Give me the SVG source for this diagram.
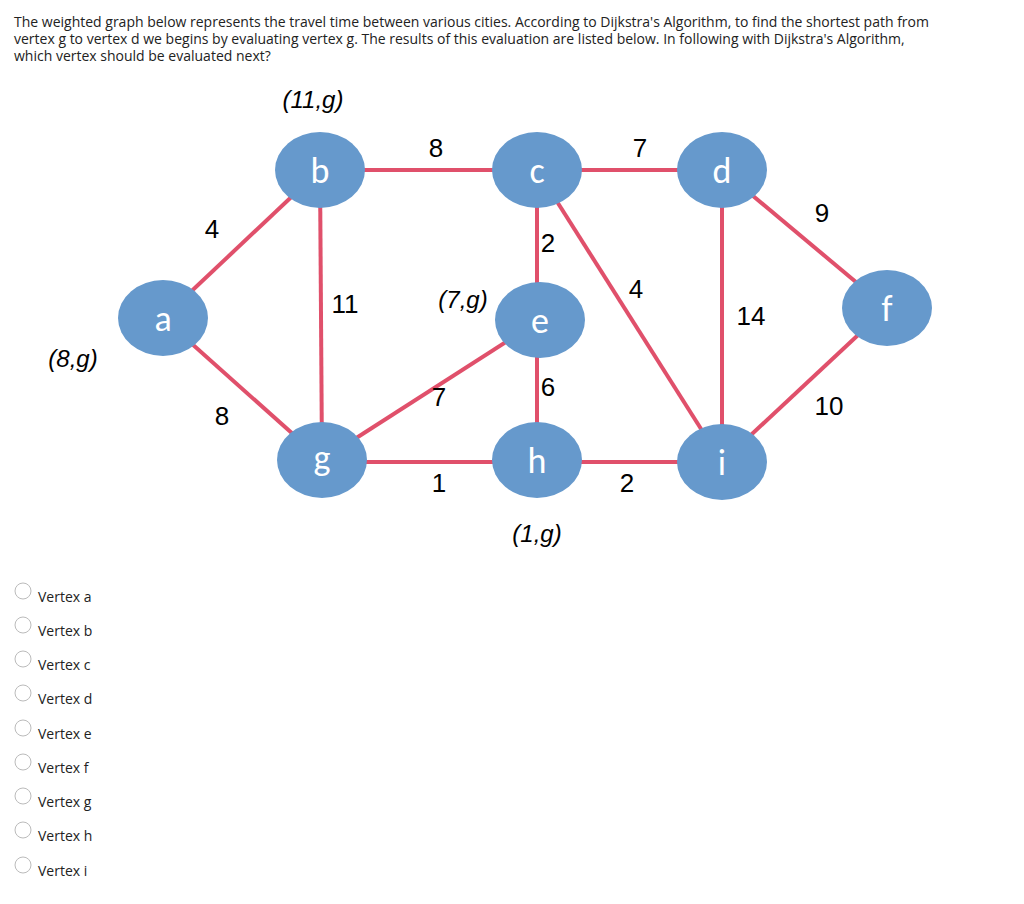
<svg xmlns="http://www.w3.org/2000/svg" width="1024" height="904" viewBox="0 0 1024 904">
<style>
.q{font-family:"Open Sans","Noto Sans",sans-serif;font-size:14px;fill:#222}
.e{stroke:#e0506b;stroke-width:4;fill:none}
.n{fill:#6699cc}
.nt{font-family:Calibri,"Liberation Sans",Carlito,sans-serif;font-size:36px;fill:#fff;text-anchor:middle}
.w{font-family:"Liberation Sans",Carlito,sans-serif;font-size:26px;fill:#000;text-anchor:middle}
.it{font-family:"Liberation Sans",Carlito,sans-serif;font-size:24px;font-style:italic;fill:#000;text-anchor:middle}
.r{fill:#fff;stroke:#bbb;stroke-width:1}
</style>
<rect width="1024" height="904" fill="#fff"/>
<text class="q" x="14" y="27">The weighted graph below represents the travel time between various cities. According to Dijkstra's Algorithm, to find the shortest path from</text>
<text class="q" x="14" y="44">vertex g to vertex d we begins by evaluating vertex g. The results of this evaluation are listed below. In following with Dijkstra's Algorithm,</text>
<text class="q" x="14" y="61">which vertex should be evaluated next?</text>
<g id="connectors">
<line class="e" x1="163" y1="318" x2="320" y2="170"/>
<line class="e" x1="163" y1="318" x2="322" y2="460"/>
<line class="e" x1="320" y1="170" x2="537" y2="170"/>
<line class="e" x1="320" y1="170" x2="322" y2="460"/>
<line class="e" x1="537" y1="170" x2="722" y2="170"/>
<line class="e" x1="537" y1="170" x2="537" y2="460"/>
<line class="e" x1="537" y1="170" x2="722" y2="462"/>
<line class="e" x1="722" y1="170" x2="887" y2="308"/>
<line class="e" x1="722" y1="170" x2="722" y2="462"/>
<line class="e" x1="540" y1="320" x2="322" y2="460"/>
<line class="e" x1="887" y1="308" x2="722" y2="462"/>
<line class="e" x1="322" y1="462" x2="722" y2="462"/>
</g>
<g id="a"><ellipse class="n" cx="163" cy="318" rx="45" ry="38"/><text class="nt" x="163" y="331">a</text></g>
<g id="b"><ellipse class="n" cx="320" cy="170" rx="45" ry="38"/><text class="nt" x="320" y="183">b</text></g>
<g id="c"><ellipse class="n" cx="537" cy="170" rx="45" ry="38"/><text class="nt" x="537" y="183">c</text></g>
<g id="d"><ellipse class="n" cx="722" cy="170" rx="45" ry="38"/><text class="nt" x="722" y="183">d</text></g>
<g id="e"><ellipse class="n" cx="540" cy="320" rx="45" ry="38"/><text class="nt" x="540" y="333">e</text></g>
<g id="f"><ellipse class="n" cx="887" cy="308" rx="45" ry="38"/><text class="nt" x="887" y="321">f</text></g>
<g id="g"><ellipse class="n" cx="322" cy="460" rx="45" ry="38"/><text class="nt" x="322" y="470">g</text></g>
<g id="h"><ellipse class="n" cx="537" cy="460" rx="45" ry="38"/><text class="nt" x="537" y="473">h</text></g>
<g id="i"><ellipse class="n" cx="722" cy="462" rx="45" ry="38"/><text class="nt" x="722" y="475">i</text></g>
<g id="weights">
<text class="w" x="212" y="238">4</text>
<text class="w" x="222" y="425">8</text>
<text class="w" x="436" y="157">8</text>
<text class="w" x="640" y="157">7</text>
<text class="w" x="548" y="252">2</text>
<text class="w" x="636" y="298">4</text>
<text class="w" x="822" y="222">9</text>
<text class="w" x="345" y="313">11</text>
<text class="w" x="751" y="325">14</text>
<text class="w" x="829" y="415">10</text>
<text class="w" x="439" y="406">7</text>
<text class="w" x="548" y="396">6</text>
<text class="w" x="439" y="492">1</text>
<text class="w" x="627" y="492">2</text>
</g>
<text class="it" x="313" y="108">(11,g)</text>
<text class="it" x="73" y="367">(8,g)</text>
<text class="it" x="463" y="308">(7,g)</text>
<text class="it" x="537" y="542">(1,g)</text>
<g id="options">
<circle class="r" cx="23" cy="591" r="8"/><text class="q" x="38" y="602">Vertex a</text>
<circle class="r" cx="23" cy="625" r="8"/><text class="q" x="38" y="636">Vertex b</text>
<circle class="r" cx="23" cy="659" r="8"/><text class="q" x="38" y="670">Vertex c</text>
<circle class="r" cx="23" cy="693" r="8"/><text class="q" x="38" y="704">Vertex d</text>
<circle class="r" cx="23" cy="728" r="8"/><text class="q" x="38" y="739">Vertex e</text>
<circle class="r" cx="23" cy="762" r="8"/><text class="q" x="38" y="773">Vertex f</text>
<circle class="r" cx="23" cy="796" r="8"/><text class="q" x="38" y="807">Vertex g</text>
<circle class="r" cx="23" cy="830" r="8"/><text class="q" x="38" y="841">Vertex h</text>
<circle class="r" cx="23" cy="865" r="8"/><text class="q" x="38" y="876">Vertex i</text>
</g>
</svg>
